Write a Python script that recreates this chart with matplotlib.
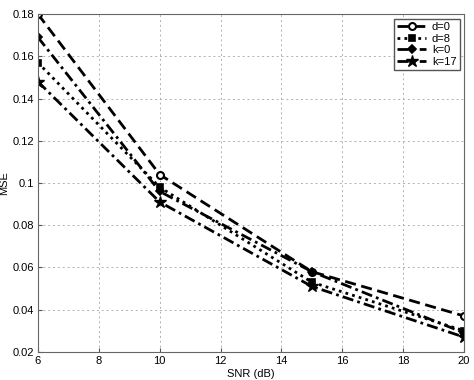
import matplotlib
matplotlib.use("Agg")
import matplotlib.pyplot as plt

# SNR values and MSE curves
snr = [6, 10, 15, 20]
mse_d0 = [0.180, 0.104, 0.058, 0.037]
mse_d8 = [0.157, 0.098, 0.053, 0.030]
mse_k0 = [0.169, 0.096, 0.058, 0.029]
mse_k17 = [0.148, 0.091, 0.051, 0.027]
labels = ["d=0", "d=8", "k=0", "k=17"]

plt.rcParams['font.family'] = ['Liberation Sans', 'DejaVu Sans']

fig = plt.figure(figsize=(4.74, 3.8), dpi=100)
ax = fig.add_axes([0.080, 0.074, 0.899, 0.889])

lw = 2.0
ax.plot(snr, mse_d0, linestyle=(0, (4, 2)), color='black', lw=lw, marker='o',
        ms=5, mfc='white', mew=1.5, label=labels[0])
ax.plot(snr, mse_d8, linestyle=(0, (1, 1.5)), color='black', lw=lw, marker='s',
        ms=5, mfc='black', mew=1.2, label=labels[1])
ax.plot(snr, mse_k0, linestyle=(0, (4, 1.5, 1, 1.5)), color='black', lw=lw, marker='D',
        ms=4.5, mfc='black', mew=1.2, label=labels[2])
ax.plot(snr, mse_k17, linestyle=(0, (4, 1.5, 1, 1.5)), color='black', lw=lw, marker='*',
        ms=9, mfc='black', mew=1.0, label=labels[3])

ax.set_xlim(6, 20)
ax.set_ylim(0.02, 0.18)
ax.set_xticks([6, 8, 10, 12, 14, 16, 18, 20])
ax.set_yticks([0.02, 0.04, 0.06, 0.08, 0.1, 0.12, 0.14, 0.16, 0.18])
ax.set_yticklabels(["0.02", "0.04", "0.06", "0.08", "0.1", "0.12", "0.14", "0.16", "0.18"])
ax.tick_params(direction='in', labelsize=8, length=3, color='#555555', pad=3)
ax.grid(True, linestyle=(0, (2, 3)), color='#b0b0b0', lw=0.7)
for s in ax.spines.values():
    s.set_color('#666666')

ax.set_xlabel("SNR (dB)", fontsize=8, labelpad=2)
ax.set_ylabel("MSE", fontsize=8)
ax.yaxis.set_label_coords(-0.068, 0.5)

leg = ax.legend(loc='upper right', fontsize=8, handlelength=2.6, borderpad=0.3,
                labelspacing=0.15, handletextpad=0.5, fancybox=False,
                framealpha=1, edgecolor='#555555', borderaxespad=0.4)

fig.savefig("out.png", dpi=100)
